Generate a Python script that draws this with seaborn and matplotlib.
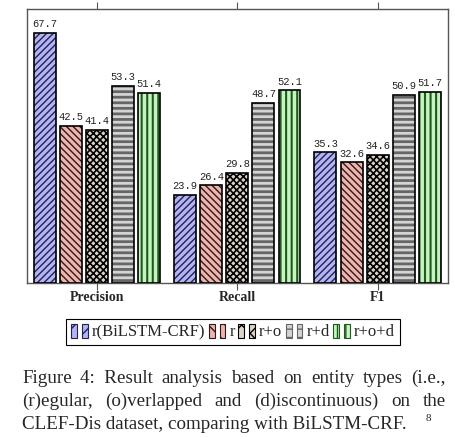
import matplotlib
matplotlib.use("Agg")
import matplotlib.pyplot as plt
import seaborn as sns
import pandas as pd
from matplotlib.patches import Patch
from matplotlib.legend_handler import HandlerTuple

# values
metrics = ["Precision", "Recall", "F1"]
models = ["r(BiLSTM-CRF)", "r", "r+o", "r+d", "r+o+d"]
bilstm = [67.7, 23.9, 35.3]
r_only = [42.5, 26.4, 32.6]
r_o = [41.4, 29.8, 34.6]
r_d = [53.3, 48.7, 50.9]
r_o_d = [51.4, 52.1, 51.7]

fills = ["#b4b4ee", "#eeb4ae", "#dcd4c4", "#d4d4d4", "#c6f4c0"]
hatch_cols = ["#202060", "#301818", "#000000", "#666666", "#1e5a1e"]
hatches = ["/////", "\\\\\\\\\\", "xxxxx", "---", "|||"]
hatch_lw = [1.0, 1.0, 1.2, 2.0, 1.5]

rows = []
for name, vals in zip(models, [bilstm, r_only, r_o, r_d, r_o_d]):
    for m, v in zip(metrics, vals):
        rows.append({"metric": m, "model": name, "score": v})
df = pd.DataFrame(rows)

sns.set_style("white")

fig = plt.figure(figsize=(4.56, 4.37), dpi=100)
ax = fig.add_axes([0.059, 0.352, 0.923, 0.627])

sns.barplot(data=df, x="metric", y="score", hue="model", order=metrics,
            hue_order=models, palette=fills, width=0.93, gap=0.16,
            saturation=1, legend=False, ax=ax)

for i, cont in enumerate(ax.containers):
    for bar in cont:
        bar.set_hatch(hatches[i])
        bar.set_edgecolor(hatch_cols[i])
        bar.set_linewidth(0)
        if hasattr(bar, "set_hatch_linewidth"):
            bar.set_hatch_linewidth(hatch_lw[i])
        # black outline on top
        x, y = bar.get_xy()
        ax.add_patch(plt.Rectangle((x, y), bar.get_width(), bar.get_height(),
                                   fill=False, edgecolor="black", lw=1.2, zorder=3))
        ax.text(x + bar.get_width() / 2, bar.get_height() + 1.0,
                f"{bar.get_height():.1f}", ha="center", va="bottom",
                fontsize=7.5, family="Liberation Mono", color="#222222")

ax.set_xlim(-0.5, 2.5)
ax.set_ylim(0, 74)
ax.set_yticks([])
ax.set_xlabel("")
ax.set_ylabel("")
ax.tick_params(axis="x", direction="out", length=5, width=0.8, color="#555555",
               top=True, bottom=True, labeltop=False, pad=0.5)
ax.set_xticks(range(3))
ax.set_xticklabels(metrics, family="Liberation Serif", fontweight="bold", fontsize=10)
for sp in ax.spines.values():
    sp.set_color("#555555")
    sp.set_linewidth(1.0)

handles = []
for f, hc, h in zip(fills, hatch_cols, hatches):
    p1 = Patch(facecolor=f, edgecolor=hc, hatch=h[:2], lw=0.8)
    p2 = Patch(facecolor=f, edgecolor=hc, hatch=h[:2], lw=0.8)
    handles.append((p1, p2))
leg = fig.legend(handles, models, loc="center", bbox_to_anchor=(0.511, 0.24), ncol=5,
                 handler_map={tuple: HandlerTuple(ndivide=None, pad=0.3)},
                 handlelength=1.0, handleheight=0.9, handletextpad=0.25,
                 columnspacing=0.2, borderpad=0.3, fancybox=False, framealpha=1,
                 edgecolor="black", prop={"family": "Liberation Serif", "size": 12})
leg.get_frame().set_linewidth(0.8)

# caption, justified across the text width
cap_lines = [
    "Figure 4:  Result analysis based on entity types (i.e.,",
    "(r)egular, (o)verlapped and (d)iscontinuous) on the",
    "CLEF-Dis dataset, comparing with BiLSTM-CRF.",
]
left, right = 22 / 456, 446 / 456
ys = [1 - 383 / 437, 1 - 406 / 437, 1 - 429 / 437]
fig.canvas.draw()
rend = fig.canvas.get_renderer()
cap_font = {"family": "Liberation Serif", "size": 13.7}
for k, (line, yy) in enumerate(zip(cap_lines, ys)):
    if k == len(cap_lines) - 1:
        t = fig.text(left, yy, line, ha="left", va="baseline", **cap_font)
        bb = t.get_window_extent(rend)
        fig.text(bb.x1 / fig.bbox.width + 0.042, yy + 0.018, "8", ha="left",
                 va="baseline", family="Liberation Serif", size=8)
        continue
    words = line.replace("4:  ", "4:\u00a0\u00a0").split(" ")
    words = [w.replace("\u00a0", " ") for w in words]
    texts = [fig.text(0, yy, w, ha="left", va="baseline", **cap_font) for w in words]
    widths = [t.get_window_extent(rend).width / fig.bbox.width for t in texts]
    gap = (right - left - sum(widths)) / (len(words) - 1)
    xx = left
    for t, w in zip(texts, widths):
        t.set_x(xx)
        xx += w + gap

fig.savefig("out.png", dpi=100)
